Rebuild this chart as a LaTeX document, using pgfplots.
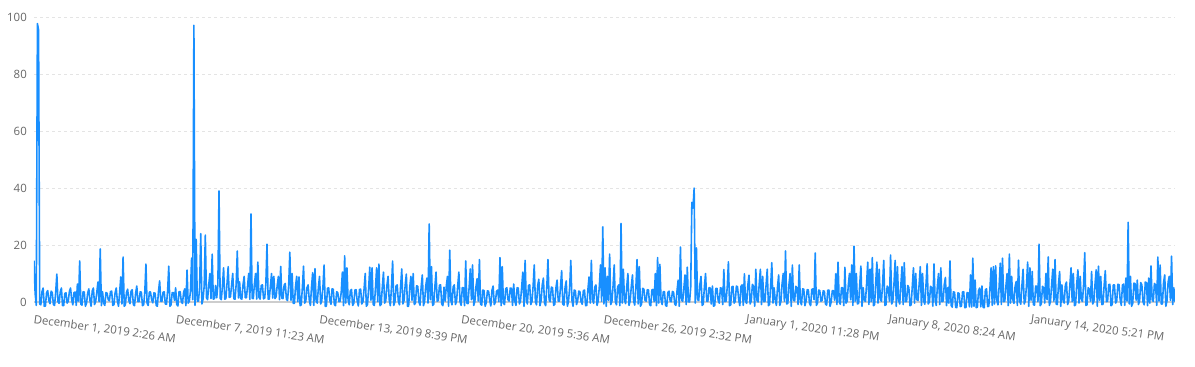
\documentclass[border=0pt]{standalone}
\usepackage{fontspec}
\setmainfont{Open Sans}
\usepackage{pgfplots}
\pgfplotsset{compat=1.18}
\definecolor{pbblue}{RGB}{24,143,255}
\definecolor{lbl}{RGB}{102,102,102}
\definecolor{gridc}{RGB}{228,228,228}
\definecolor{zeroc}{RGB}{205,205,205}
\begin{document}
\begin{tikzpicture}
\begin{axis}[
  at={(34bp,57.9bp)}, anchor=south west,
  scale only axis, width=1141bp, height=291.8bp,
  xmin=0, xmax=999, ymin=-2.5, ymax=100,
  axis line style={draw=none},
  tick style={draw=none},
  ytick={0,20,...,100},
  xtick={0,124.6,250.2,374.5,499.1,624.0,748.6,873.2},
  xticklabels={December 1{,} 2019 2:26 AM, December 7{,} 2019 11:23 AM, December 13{,} 2019 8:39 PM, December 20{,} 2019 5:36 AM, December 26{,} 2019 2:32 PM, January 1{,} 2020 11:28 PM, January 8{,} 2020 8:24 AM, January 14{,} 2020 5:21 PM},
  ymajorgrids,
  major grid style={gridc, line width=1bp, dash pattern=on 3bp off 3bp},
  xticklabel style={rotate=-8, anchor=north west, font=\fontsize{11.5}{13}\selectfont, text=lbl, inner sep=0pt, yshift=-5bp, xshift=1bp},
  yticklabel style={anchor=east, font=\fontsize{11.5}{13}\selectfont, text=lbl, inner sep=0pt, xshift=-7bp},
  /pgf/number format/assume math mode=true,
]
\draw[zeroc, line width=2bp] (axis cs:0,0) -- (axis cs:999,0);
\addplot[pbblue, line width=1.6bp, line join=round, mark=none] table[header=false, x expr=\coordindex, y index=0, row sep=\\] {
14.5\\ 3.0\\ -1.2\\ 97.8\\ 95.5\\ -0.7\\ -1.0\\ 3.6\\ 4.9\\ -1.5\\ -1.4\\ 3.2\\ 4.0\\ 0.6\\ -0.6\\ 3.8\\ 3.3\\ -0.9\\ -1.2\\ 3.4\\
9.8\\ 0.1\\ -0.5\\ 3.5\\ 4.9\\ -1.3\\ -1.3\\ 3.0\\ 3.2\\ -0.4\\ 0.3\\ 3.7\\ 4.9\\ 0.8\\ -1.0\\ 3.3\\ 3.5\\ -1.2\\ 6.3\\ 0.3\\
14.4\\ -0.7\\ -1.1\\ 3.6\\ 3.5\\ -1.5\\ -0.4\\ 3.1\\ 4.6\\ 0.6\\ -1.5\\ 3.9\\ 4.9\\ -0.9\\ 0.2\\ 3.4\\ 7.0\\ 0.1\\ 18.6\\ -1.3\\
3.6\\ -0.4\\ -1.2\\ 3.3\\ 3.1\\ 0.8\\ 0.4\\ 3.7\\ 3.8\\ -1.2\\ -0.9\\ 3.2\\ 4.9\\ 0.3\\ -1.5\\ 3.5\\ 8.8\\ -0.7\\ 15.8\\ -1.5\\
-1.0\\ 3.4\\ 4.5\\ 0.6\\ -0.6\\ 3.8\\ 4.3\\ -0.9\\ -1.3\\ 3.1\\ 5.6\\ 0.1\\ 0.1\\ 3.6\\ 3.4\\ -1.3\\ -1.0\\ 3.3\\ 13.3\\ -0.4\\
-1.2\\ 3.5\\ 3.5\\ 0.8\\ -0.3\\ 3.2\\ 3.1\\ -1.2\\ -1.5\\ 3.7\\ 7.4\\ 0.3\\ 0.2\\ 3.4\\ 3.6\\ -0.7\\ -0.8\\ 3.9\\ 12.6\\ -1.5\\
-1.0\\ 3.3\\ 3.3\\ 0.6\\ 5.0\\ -0.9\\ -1.4\\ 3.6\\ 3.6\\ 0.1\\ -0.5\\ 3.4\\ 4.6\\ -1.3\\ 11.2\\ -0.4\\ 0.3\\ 3.8\\ 15.4\\ 0.8\\
97.2\\ -1.2\\ 22.0\\ 0.3\\ 0.3\\ 5.0\\ 24.0\\ -0.7\\ 1.0\\ 5.5\\ 23.5\\ 1.5\\ 0.8\\ 6.0\\ 10.0\\ 1.2\\ 16.8\\ 1.0\\ 1.2\\ 5.8\\
1.5\\ 6.2\\ 39.0\\ 1.3\\ 0.8\\ 5.6\\ 12.0\\ 1.0\\ 1.2\\ 6.4\\ 12.4\\ 1.6\\ 1.8\\ 5.9\\ 10.0\\ 1.1\\ 1.0\\ 6.1\\ 17.9\\ 1.4\\
7.1\\ 1.2\\ 1.0\\ 6.0\\ 9.0\\ 1.5\\ 1.5\\ 5.7\\ 10.0\\ 0.9\\ 30.9\\ 1.3\\ 1.2\\ 6.3\\ 10.0\\ 1.0\\ 14.0\\ 1.6\\ 1.0\\ 5.8\\
6.0\\ 1.1\\ 1.4\\ 6.2\\ 20.3\\ 1.0\\ 1.0\\ 5.6\\ 10.0\\ 1.4\\ 9.0\\ 1.2\\ 1.8\\ 6.0\\ 9.0\\ 0.8\\ 12.5\\ 1.3\\ 1.2\\ 5.9\\
6.5\\ 1.0\\ 0.5\\ 5.8\\ 17.5\\ 0.6\\ 10.0\\ -0.5\\ -0.5\\ 5.5\\ 9.0\\ 0.1\\ 8.8\\ -1.3\\ -1.0\\ 5.2\\ 12.6\\ -0.4\\ 0.3\\ 5.0\\
6.0\\ 0.8\\ -1.2\\ 5.3\\ 10.3\\ -1.2\\ 11.7\\ 0.3\\ -0.4\\ 5.0\\ 9.0\\ -0.7\\ 0.5\\ 5.4\\ 13.0\\ -1.5\\ -1.5\\ 4.8\\ 5.0\\ 0.6\\
-0.8\\ 4.6\\ 4.5\\ -0.9\\ -1.3\\ 3.6\\ 3.2\\ 0.1\\ 0.2\\ 3.4\\ 10.5\\ -1.3\\ 16.2\\ -0.4\\ 12.0\\ 0.8\\ -1.0\\ 4.0\\ 4.4\\ -1.2\\
-0.5\\ 4.2\\ 4.3\\ 0.3\\ -1.4\\ 4.4\\ 4.5\\ -0.7\\ 0.1\\ 4.5\\ 10.0\\ -1.5\\ -0.9\\ 4.8\\ 12.2\\ 0.6\\ 12.0\\ -0.9\\ -1.2\\ 5.0\\
12.0\\ 0.1\\ 13.3\\ -1.3\\ -0.8\\ 5.4\\ 10.5\\ -0.4\\ 0.4\\ 5.8\\ 9.0\\ 0.8\\ -1.3\\ 5.2\\ 14.4\\ -1.2\\ 0.0\\ 5.6\\ 6.0\\ 0.3\\
-1.0\\ 5.5\\ 11.6\\ -0.7\\ 0.5\\ 5.9\\ 9.8\\ -1.5\\ -1.5\\ 5.1\\ 9.0\\ 0.6\\ 10.0\\ -0.9\\ -0.4\\ 5.7\\ 5.5\\ 0.1\\ -1.1\\ 5.3\\
9.5\\ -1.3\\ 0.2\\ 5.6\\ 8.4\\ -0.4\\ 27.4\\ 0.8\\ 12.4\\ -1.2\\ -0.8\\ 5.4\\ 10.5\\ 0.3\\ 0.5\\ 5.9\\ 6.0\\ -0.7\\ -1.3\\ 5.2\\
0.3\\ 5.5\\ 9.0\\ -1.5\\ 18.2\\ 0.6\\ -1.0\\ 5.3\\ 6.0\\ -0.9\\ 0.4\\ 5.7\\ 10.5\\ 0.1\\ -1.2\\ 5.0\\ 5.0\\ -1.3\\ 14.4\\ -0.4\\
-0.6\\ 5.2\\ 11.6\\ 0.8\\ 13.0\\ -1.2\\ 0.2\\ 5.4\\ 8.2\\ 0.3\\ 14.9\\ -0.7\\ -1.1\\ 4.2\\ 4.0\\ -1.5\\ -0.3\\ 3.9\\ 3.8\\ 0.6\\
-1.4\\ 4.1\\ 5.6\\ -0.9\\ 0.0\\ 3.8\\ 4.2\\ 0.1\\ 15.6\\ -1.3\\ 12.4\\ -0.4\\ -0.9\\ 4.6\\ 5.0\\ 0.8\\ 0.3\\ 4.9\\ 4.8\\ -1.2\\
6.3\\ 0.3\\ -1.2\\ 5.0\\ 4.9\\ -0.7\\ 0.4\\ 5.3\\ 10.5\\ -1.5\\ 14.6\\ 0.6\\ -0.7\\ 5.8\\ 6.0\\ -0.9\\ 0.2\\ 5.5\\ 13.0\\ 0.1\\
-1.0\\ 5.6\\ 8.0\\ -1.3\\ 0.5\\ 6.0\\ 8.4\\ -0.4\\ -1.3\\ 5.4\\ 14.9\\ 0.8\\ 0.1\\ 5.2\\ 5.0\\ -1.2\\ -0.8\\ 5.0\\ 7.7\\ 0.3\\
0.3\\ 5.3\\ 11.0\\ -0.7\\ -1.1\\ 5.1\\ 7.4\\ -1.5\\ 0.2\\ 5.0\\ 14.6\\ 0.6\\ -1.5\\ 4.2\\ 4.0\\ -0.9\\ 0.4\\ 3.8\\ 3.6\\ 0.1\\
-0.8\\ 4.0\\ 4.2\\ -1.3\\ -1.2\\ 4.4\\ 8.8\\ -0.4\\ 14.6\\ 0.8\\ -0.5\\ 5.2\\ 6.0\\ -1.2\\ 0.5\\ 5.5\\ 13.0\\ 0.3\\ 26.4\\ -0.7\\
12.0\\ -1.5\\ 9.0\\ 0.6\\ 16.8\\ -0.9\\ 0.2\\ 5.6\\ 13.0\\ 0.1\\ -1.0\\ 5.3\\ 6.0\\ -1.3\\ 27.6\\ -0.4\\ 11.5\\ 0.8\\ -0.6\\ 5.4\\
10.0\\ -1.2\\ 0.4\\ 5.5\\ 9.5\\ 0.3\\ -1.1\\ 5.1\\ 14.9\\ -0.7\\ 12.4\\ -1.5\\ -0.7\\ 4.8\\ 4.5\\ 0.6\\ 0.3\\ 4.3\\ 4.2\\ -0.9\\
-1.3\\ 4.2\\ 4.4\\ 0.1\\ 10.0\\ -1.3\\ 15.6\\ -0.4\\ 13.2\\ 0.8\\ -0.9\\ 3.6\\ 3.6\\ -1.2\\ -1.5\\ 3.4\\ 3.8\\ 0.3\\ 0.1\\ 3.7\\
3.4\\ -0.7\\ -1.2\\ 3.9\\ 7.7\\ -1.5\\ 19.3\\ 0.6\\ 0.3\\ 4.8\\ 9.5\\ -0.9\\ 12.2\\ 0.1\\ 0.0\\ 5.2\\ 35.0\\ 33.0\\ 40.0\\ -0.4\\
19.0\\ 0.8\\ 0.5\\ 6.0\\ 9.0\\ -1.2\\ -0.8\\ 5.5\\ 10.0\\ 0.3\\ 0.2\\ 5.0\\ 5.0\\ -0.7\\ 5.6\\ -1.5\\ -1.2\\ 4.8\\ 4.8\\ 0.6\\
-0.4\\ 5.0\\ 4.8\\ -0.9\\ 11.4\\ 0.1\\ 0.3\\ 5.4\\ 14.1\\ -1.3\\ -1.0\\ 5.3\\ 5.5\\ -0.4\\ 0.2\\ 5.6\\ 5.3\\ 0.8\\ -1.3\\ 5.5\\
6.0\\ -1.2\\ 9.9\\ 0.3\\ -0.5\\ 5.8\\ 9.4\\ -0.7\\ 0.4\\ 6.2\\ 5.5\\ -1.5\\ 11.5\\ 0.6\\ 0.0\\ 6.5\\ 11.5\\ -0.9\\ 9.0\\ 0.1\\
0.2\\ 6.0\\ 11.5\\ -1.3\\ -0.9\\ 5.6\\ 13.8\\ -0.4\\ 5.0\\ 0.8\\ -1.2\\ 5.2\\ 9.5\\ -1.2\\ 0.3\\ 6.4\\ 10.0\\ 0.3\\ 17.9\\ -0.7\\
-0.5\\ 6.0\\ 10.0\\ -1.5\\ 13.0\\ 0.6\\ 0.4\\ 5.5\\ 5.0\\ -0.9\\ 13.0\\ 0.1\\ -1.0\\ 4.6\\ 4.5\\ -1.3\\ 0.3\\ 4.3\\ 4.2\\ -0.4\\
-1.3\\ 4.4\\ 4.6\\ 0.8\\ 17.2\\ -1.2\\ -0.4\\ 4.2\\ 4.0\\ 0.3\\ 0.5\\ 3.9\\ 3.8\\ -0.7\\ -1.1\\ 4.1\\ 4.2\\ -1.5\\ 0.1\\ 4.0\\
4.0\\ 0.6\\ 9.9\\ -0.9\\ 14.0\\ 0.1\\ -0.8\\ 5.0\\ 5.0\\ -1.3\\ 12.2\\ -0.4\\ 0.3\\ 6.0\\ 10.0\\ 0.8\\ 13.0\\ -1.2\\ 19.6\\ 0.3\\
10.0\\ -0.7\\ -0.5\\ 6.2\\ 12.6\\ -1.5\\ 5.0\\ 0.6\\ 0.2\\ 6.5\\ 14.0\\ -0.9\\ 11.5\\ 0.1\\ 15.6\\ -1.3\\ -0.9\\ 6.8\\ 14.0\\ -0.4\\
11.5\\ 0.8\\ 0.3\\ 6.3\\ 14.6\\ -1.2\\ -1.0\\ 5.6\\ 5.0\\ 0.3\\ 16.5\\ -0.7\\ 0.4\\ 6.6\\ 14.6\\ -1.5\\ 12.4\\ 0.6\\ -0.7\\ 6.0\\
12.4\\ -0.9\\ 13.8\\ 0.1\\ 0.2\\ 5.8\\ 5.0\\ -1.3\\ -1.0\\ 5.4\\ 12.0\\ -0.4\\ 10.0\\ 0.8\\ 0.5\\ 6.2\\ 12.4\\ -1.2\\ 10.0\\ 0.3\\
-0.8\\ 6.0\\ 13.4\\ -0.7\\ 0.1\\ 5.5\\ 5.0\\ -1.5\\ 13.4\\ 0.6\\ -1.2\\ 5.8\\ 10.0\\ -0.9\\ 12.0\\ 0.1\\ 0.3\\ 6.1\\ 8.6\\ -1.3\\
5.0\\ -0.4\\ 14.4\\ -1.2\\ -1.8\\ 3.6\\ 3.4\\ -1.9\\ -2.0\\ 3.2\\ 3.0\\ -1.6\\ -1.5\\ 3.5\\ 3.6\\ -2.0\\ -1.9\\ 3.3\\ 3.2\\ -1.7\\
9.5\\ -1.8\\ 15.4\\ -1.5\\ 7.7\\ -2.0\\ -1.8\\ 4.0\\ 4.9\\ -1.7\\ 5.6\\ -1.9\\ -2.0\\ 4.3\\ 4.6\\ -1.6\\ -1.5\\ 4.8\\ 12.0\\ -1.2\\
12.4\\ -0.7\\ 12.7\\ 0.6\\ -1.0\\ 5.2\\ 13.6\\ -0.9\\ 15.4\\ 0.1\\ 0.3\\ 5.6\\ 10.0\\ -1.3\\ 16.8\\ -0.4\\ 9.0\\ 0.8\\ -0.5\\ 5.4\\
7.2\\ -1.2\\ 14.7\\ 0.3\\ -0.8\\ 5.8\\ 11.5\\ -0.7\\ 0.4\\ 6.0\\ 14.0\\ -1.5\\ 12.0\\ 0.6\\ 10.7\\ -0.9\\ -1.1\\ 5.6\\ 5.5\\ 0.1\\
20.3\\ -1.3\\ -0.6\\ 5.5\\ 5.0\\ -0.4\\ 10.0\\ 0.8\\ 15.8\\ -1.2\\ 0.2\\ 6.0\\ 11.5\\ 0.3\\ 14.9\\ -0.7\\ -0.9\\ 6.2\\ 10.7\\ -1.5\\
6.0\\ 0.6\\ -0.4\\ 5.8\\ 7.0\\ -0.9\\ 0.5\\ 6.0\\ 12.0\\ 0.1\\ 10.0\\ -1.3\\ -1.0\\ 6.4\\ 11.3\\ -0.4\\ 9.0\\ 0.8\\ 0.2\\ 6.2\\
17.3\\ -1.2\\ -1.0\\ 5.0\\ 4.5\\ 0.3\\ 10.7\\ -0.7\\ 0.2\\ 6.3\\ 11.3\\ -1.5\\ 12.6\\ 0.6\\ 9.0\\ -0.9\\ -0.8\\ 6.0\\ 11.0\\ 0.1\\
0.3\\ 6.1\\ 6.2\\ -1.3\\ -0.9\\ 6.0\\ 6.0\\ -0.4\\ 0.4\\ 6.2\\ 6.1\\ 0.8\\ -1.2\\ 5.9\\ 6.3\\ -1.2\\ 8.4\\ 0.3\\ 28.0\\ -0.7\\
9.0\\ -1.5\\ -0.5\\ 6.6\\ 6.5\\ 0.6\\ 7.7\\ -0.9\\ 0.3\\ 6.8\\ 6.0\\ 0.1\\ -1.0\\ 7.0\\ 6.8\\ -1.3\\ 8.4\\ -0.4\\ 12.7\\ 0.8\\
0.2\\ 6.5\\ 6.0\\ -1.2\\ 15.8\\ 0.3\\ 13.0\\ -0.7\\ -0.7\\ 6.8\\ 9.5\\ -1.5\\ 0.4\\ 7.0\\ 9.0\\ 0.6\\ 16.1\\ -0.9\\ 5.0\\ 0.1\\
};
\end{axis}
\pgfresetboundingbox
\path (0,0) rectangle (1195bp,367bp);
\end{tikzpicture}
\end{document}
